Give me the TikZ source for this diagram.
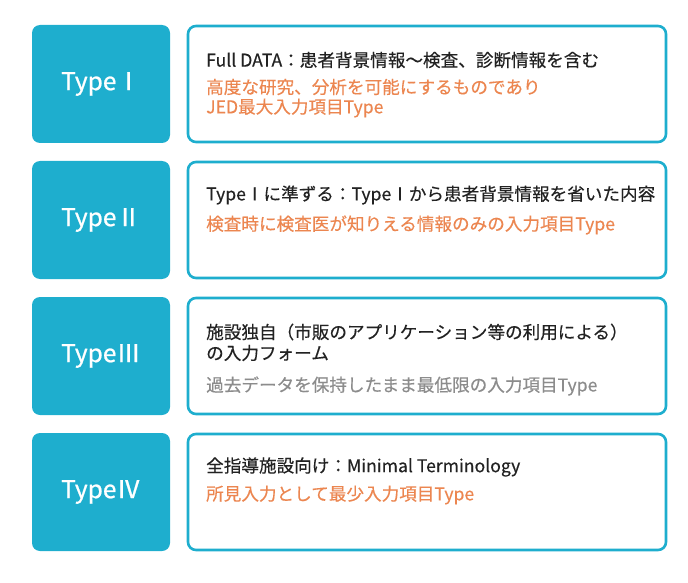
\documentclass[tikz,border=0pt]{standalone}
\usepackage{fontspec}
\setmainfont{Noto Sans CJK JP}
\newfontfamily\jpmed[FakeBold=0.35]{Noto Sans CJK JP}
\newfontfamily\jplab[FakeBold=0.8]{Noto Sans CJK JP}
\definecolor{cyanb}{HTML}{1EAECE}
\definecolor{orangeT}{HTML}{EC8650}
\definecolor{grayT}{HTML}{8C8C8C}
\definecolor{darkT}{HTML}{222222}
\tikzset{
  typebox/.style={fill=cyanb, rounded corners=8pt, minimum width=138pt, minimum height=118pt, inner sep=0pt, text=white, font=\jplab\fontsize{24.5}{28}\selectfont},
  descbox/.style={draw=cyanb, line width=2.6pt, fill=white, rounded corners=8pt, minimum width=478pt, minimum height=116pt, inner sep=0pt},
  blk/.style={anchor=west, inner sep=0pt, text=darkT, font=\jpmed\fontsize{17.6}{21}\selectfont},
  org/.style={anchor=west, inner sep=0pt, text=orangeT, font=\jpmed\fontsize{17.6}{21}\selectfont},
  gry/.style={anchor=west, inner sep=0pt, text=grayT, font=\jpmed\fontsize{17.6}{21}\selectfont},
}
\begin{document}
\begin{tikzpicture}[x=1pt,y=-1pt]
\useasboundingbox (0,0) rectangle (688,583);
% Row 1
\node[typebox] (t1) at (101,84) {TypeⅠ};
\node[descbox] (d1) at (427,84) {};
\node[blk] (l11) at (206,60) {Full DATA：患者背景情報〜検査、診断情報を含む};
\node[org] (l12) at (206,87) {高度な研究、分析を可能にするものであり};
\node[org] (l13) at (206,108) {JED最大入力項目Type};
% Row 2
\node[typebox] (t2) at (101,220) {TypeⅡ};
\node[descbox] (d2) at (427,220) {};
\node[blk] (l21) at (206,195) {TypeⅠに準ずる：TypeⅠから患者背景情報を省いた内容};
\node[org] (l22) at (206,225) {検査時に検査医が知りえる情報のみの入力項目Type};
% Row 3
\node[typebox] (t3) at (101,356) {TypeⅢ};
\node[descbox] (d3) at (427,356) {};
\node[blk] (l31) at (206,332) {施設独自（市販のアプリケーション等の利用による）};
\node[blk] (l32) at (206,353) {の入力フォーム};
\node[gry] (l33) at (206,386) {過去データを保持したまま最低限の入力項目Type};
% Row 4
\node[typebox] (t4) at (101,492) {TypeⅣ};
\node[descbox] (d4) at (427,492) {};
\node[blk] (l41) at (206,467) {全指導施設向け：Minimal Terminology};
\node[org] (l42) at (206,495) {所見入力として最少入力項目Type};
\end{tikzpicture}
\end{document}
